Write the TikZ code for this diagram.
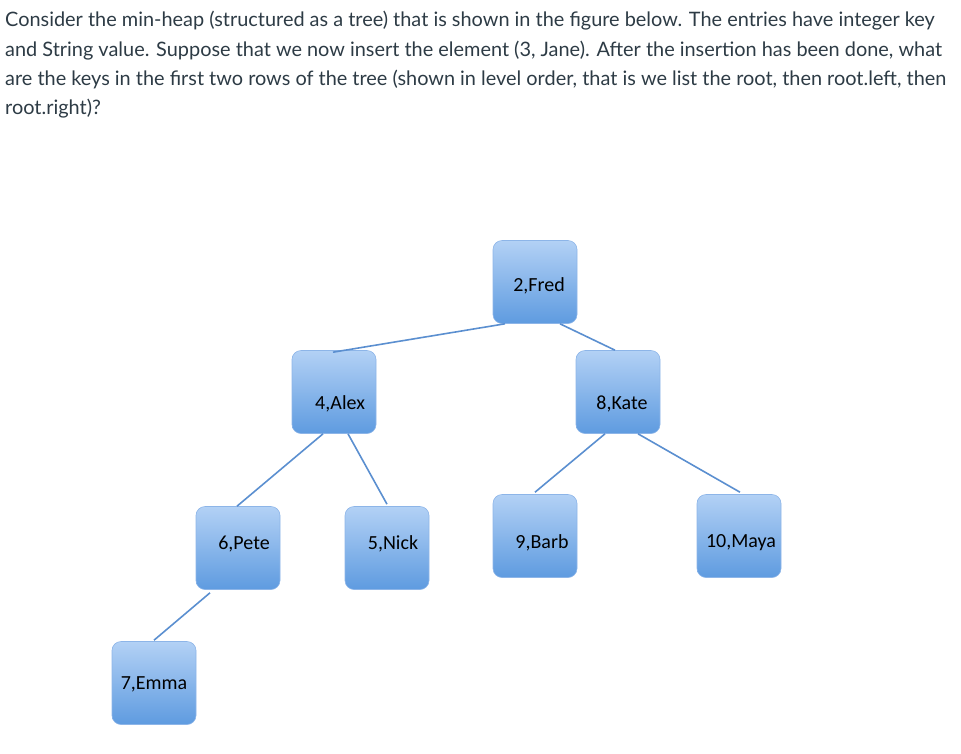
\documentclass[tikz,border=0pt]{standalone}
\usepackage{fontspec}
\setmainfont{Lato}
\newfontfamily\boxfont{Carlito}
\usetikzlibrary{calc}
\definecolor{edgeblue}{HTML}{5B8FD0}
\definecolor{toptone}{HTML}{B3D1F5}
\definecolor{bottone}{HTML}{5E9BE0}
\definecolor{bordertone}{HTML}{8DB5E8}
\definecolor{txt}{HTML}{2D3B45}
\tikzset{
  heapnode/.style={minimum width=84pt,minimum height=83pt,rounded corners=9pt,
    top color=toptone,bottom color=bottone,draw=bordertone,line width=0.6pt,
    font=\boxfont\fontsize{20}{24}\selectfont,text=black},
  lbl/.style={font=\boxfont\fontsize{20}{24}\selectfont,text=black,inner sep=0pt},
  link/.style={draw=edgeblue,line width=1.6pt},
  qline/.style={anchor=base west,inner sep=0pt,font=\fontsize{19.9}{24}\selectfont,text=txt}
}
\begin{document}
\begin{tikzpicture}[x=1pt,y=-1pt]
\useasboundingbox (0,0) rectangle (961,753);
\node[qline] (l1) at (5,26) {Consider the min-heap (structured as a tree) that is shown in the figure below. The entries have integer key};
\node[qline] (l2) at (5,56) {and String value. Suppose that we now insert the element (3, Jane). After the insertion has been done, what};
\node[qline] (l3) at (5,85) {are the keys in the first two rows of the tree (shown in level order, that is we list the root, then root.left, then};
\node[qline] (l4) at (5,114) {root.right)?};
\node[heapnode] (fred) at (535,282) {};
\node[heapnode] (alex) at (334,392) {};
\node[heapnode] (kate) at (618,392) {};
\node[heapnode] (pete) at (238,548) {};
\node[heapnode] (nick) at (387,548) {};
\node[heapnode] (barb) at (535,536) {};
\node[heapnode] (maya) at (739,536) {};
\node[heapnode] (emma) at (154,683) {};
\node[lbl] (tfred) at ($(fred.center)+(4,4)$) {2,Fred};
\node[lbl] (talex) at ($(alex.center)+(6,12)$) {4,Alex};
\node[lbl] (tkate) at ($(kate.center)+(4,12)$) {8,Kate};
\node[lbl] (tpete) at ($(pete.center)+(6,-4)$) {6,Pete};
\node[lbl] (tnick) at ($(nick.center)+(6,-4)$) {5,Nick};
\node[lbl] (tbarb) at ($(barb.center)+(7,7)$) {9,Barb};
\node[lbl] (tmaya) at ($(maya.center)+(2,7)$) {10,Maya};
\node[lbl] (temma) at ($(emma.center)+(0,1)$) {7,Emma};
\draw[link] ($(fred.south)+(-30,0)$) -- ($(alex.north)+(-1,2)$);
\draw[link] ($(fred.south)+(25,0)$) -- ($(kate.north)+(-3,0)$);
\draw[link] ($(alex.south)+(-11,0)$) -- ($(pete.north)+(-1,0)$);
\draw[link] ($(alex.south)+(14,0)$) -- ($(nick.north)+(0,-2)$);
\draw[link] ($(kate.south)+(-13,0)$) -- ($(barb.north)+(0,-2)$);
\draw[link] ($(kate.south)+(20,0)$) -- ($(maya.north)+(1,-2)$);
\draw[link] ($(pete.south)+(-28,3)$) -- ($(emma.north)+(0,-1)$);
\end{tikzpicture}
\end{document}
